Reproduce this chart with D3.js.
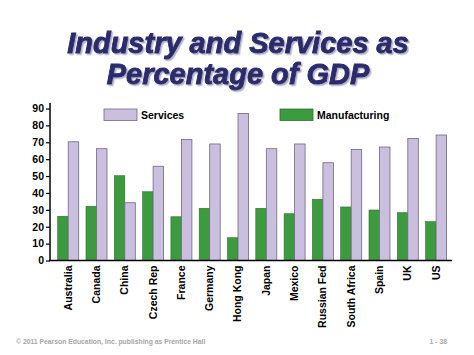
<!DOCTYPE html>
<html><head><meta charset="utf-8">
<script src="https://cdn.jsdelivr.net/npm/d3@7"></script>
<style>body{margin:0;background:#fff;}svg{display:block;}</style>
</head><body>
<script>
const categories = ["Australia","Canada","China","Czech Rep","France","Germany","Hong Kong","Japan","Mexico","Russian Fed","South Africa","Spain","UK","US"];
const manufacturing = [26.2,32.1,50.2,40.7,25.9,30.9,13.5,30.9,27.7,36.2,31.7,29.9,28.3,23.0];
const services = [70.3,66.2,34.2,55.8,71.7,69.0,87.1,66.2,69.0,57.9,65.8,67.2,72.3,74.3];
const yTicks = [0,10,20,30,40,50,60,70,80,90];
const seriesNames = ["Services","Manufacturing"];
const titleLines = ["Industry and Services as","Percentage of GDP"];

const W=474,H=355;
const svg=d3.select("body").append("svg").attr("width",W).attr("height",H);
svg.append("rect").attr("width",W).attr("height",H).attr("fill","#fff");

const defs=svg.append("defs");
const f=defs.append("filter").attr("id","sh").attr("x","-5%").attr("y","-10%").attr("width","110%").attr("height","130%");
f.append("feDropShadow").attr("dx",1.5).attr("dy",1.5).attr("stdDeviation",0.6).attr("flood-color","#9a9ab8").attr("flood-opacity",0.8);

const font="Liberation Sans, Arial, sans-serif";
svg.selectAll("text.title").data(titleLines).enter().append("text")
  .attr("x",238).attr("y",(d,i)=>53+i*30.5)
  .attr("text-anchor","middle").attr("font-family",font).attr("font-weight","bold").attr("font-style","italic")
  .attr("font-size",29).attr("fill","#2c2a6c").attr("stroke","#2c2a6c").attr("stroke-width",0.9)
  .attr("filter","url(#sh)")
  .text(d=>d);

const y=d3.scaleLinear().domain([0,90]).range([260.5,108.5]);
const x0=d3.scaleBand().domain(categories).range([57.7,446.6]).paddingInner(0.258).paddingOuter(0);
const x1=d3.scaleBand().domain(["m","s"]).range([0,x0.bandwidth()]);

const g=svg.append("g");
categories.forEach((c,i)=>{
  g.append("rect").attr("x",x0(c)+x1("m")).attr("y",y(manufacturing[i]))
   .attr("width",x1.bandwidth()).attr("height",y(0)-y(manufacturing[i]))
   .attr("fill","#3d9b3f").attr("stroke","#2f6e30").attr("stroke-width",0.6);
  g.append("rect").attr("x",x0(c)+x1("s")).attr("y",y(services[i]))
   .attr("width",x1.bandwidth()).attr("height",y(0)-y(services[i]))
   .attr("fill","#cbbfe0").attr("stroke","#6e6a7e").attr("stroke-width",0.8);
});

// y axis
const yAxis=d3.axisLeft(y).tickValues(yTicks).tickSize(4).tickPadding(2).tickSizeOuter(0);
const ya=svg.append("g").attr("transform","translate(50,0)").call(yAxis);
ya.select(".domain").remove();
ya.selectAll("line").attr("stroke","#000").attr("stroke-width",1.2);
ya.selectAll("text").attr("font-family",font).attr("font-weight","bold").attr("font-size",10.5).attr("fill","#000");
svg.append("line").attr("x1",50).attr("x2",50).attr("y1",103).attr("y2",261).attr("stroke","#000").attr("stroke-width",1.5);

// x axis
const xAxis=d3.axisBottom(x0).tickSize(0).tickPadding(0);
const xa=svg.append("g").attr("transform","translate(0,260.5)").call(xAxis);
xa.select(".domain").remove();
xa.selectAll("text")
  .attr("font-family",font).attr("font-weight","bold").attr("font-size",10.5).attr("fill","#000")
  .attr("text-anchor","end").attr("dy",null).attr("y",null)
  .attr("transform","translate(3.5,5) rotate(-90)");
svg.append("line").attr("x1",49).attr("x2",452).attr("y1",260.5).attr("y2",260.5).attr("stroke","#000").attr("stroke-width",1.5);

// legend
const legend=[{name:seriesNames[0],x:104,fill:"#cbbfe0",stroke:"#6e6a7e"},{name:seriesNames[1],x:280,fill:"#3d9b3f",stroke:"#2f6e30"}];
legend.forEach(l=>{
  svg.append("rect").attr("x",l.x).attr("y",109).attr("width",33).attr("height",11.5).attr("fill",l.fill).attr("stroke",l.stroke).attr("stroke-width",0.8);
  svg.append("text").attr("x",l.x+37).attr("y",119).attr("font-family",font).attr("font-weight","bold").attr("font-size",10.5).attr("fill","#000").text(l.name);
});

// footer
svg.append("text").attr("x",16).attr("y",343.5).attr("font-family",font).attr("font-size",6.8).attr("font-weight","bold").attr("fill","#a6a6a6")
  .text("© 2011 Pearson Education, Inc. publishing as Prentice Hall");
svg.append("text").attr("x",447).attr("y",343.5).attr("text-anchor","end").attr("font-family",font).attr("font-size",6.8).attr("font-weight","bold").attr("fill","#a6a6a6")
  .text("1 - 38");
</script>
</body></html>
